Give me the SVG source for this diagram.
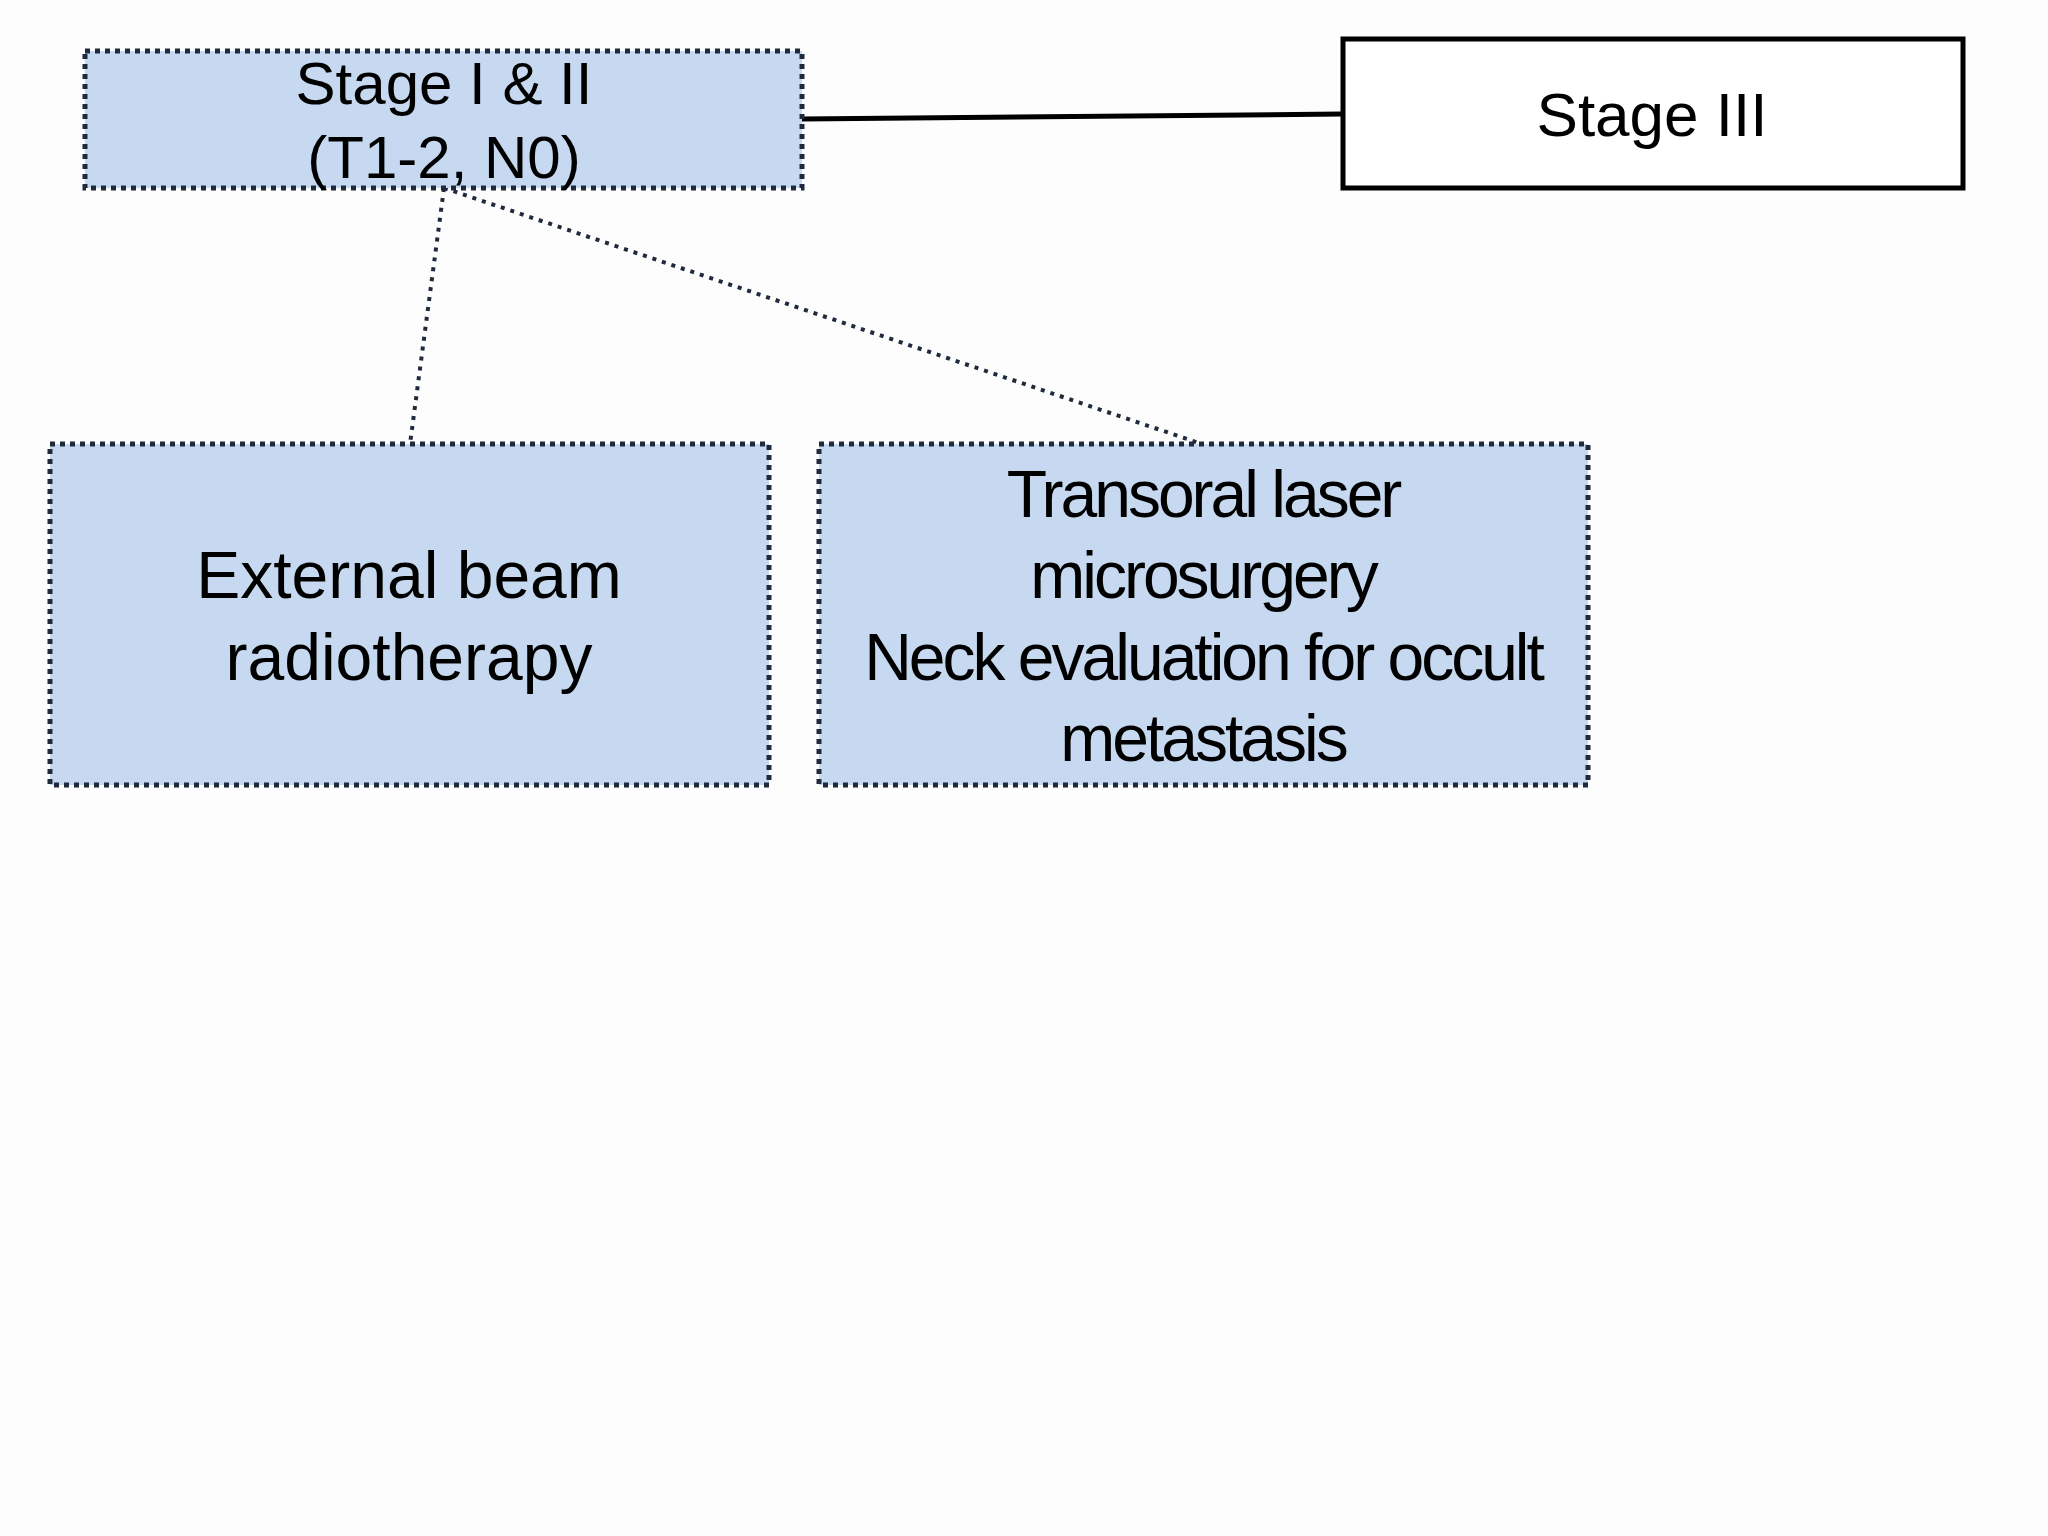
<svg xmlns="http://www.w3.org/2000/svg" width="2048" height="1536" viewBox="0 0 2048 1536">
<style>
.d{fill:#c6d9f0;stroke:#1f2a3c;stroke-width:5;stroke-dasharray:5 5}
.t{font-family:"Liberation Sans",Arial,sans-serif;fill:#000;text-anchor:middle}
.c{stroke:#1f2a3c;stroke-width:4;stroke-dasharray:4 6;fill:none}
</style>
<rect width="2048" height="1536" fill="#fdfdfd"/>
<g id="connectors">
<line x1="802" y1="119" x2="1343" y2="114" stroke="#000" stroke-width="5"/>
<line class="c" x1="444" y1="188" x2="410" y2="444"/>
<line class="c" x1="444" y1="188" x2="1202" y2="444"/>
</g>
<g id="stage12">
<rect class="d" x="85" y="51" width="717" height="137"/>
<text class="t" x="444" y="104" font-size="60">Stage I &amp; II</text>
<text class="t" x="444" y="178" font-size="60">(T1-2, N0)</text>
</g>
<g id="stage3">
<rect x="1343" y="39" width="620" height="149" fill="#fff" stroke="#000" stroke-width="5"/>
<text class="t" x="1652" y="136" font-size="62">Stage III</text>
</g>
<g id="ebrt">
<rect class="d" x="50" y="444" width="719" height="341"/>
<text class="t" x="409" y="598" font-size="66">External beam</text>
<text class="t" x="409" y="680" font-size="66">radiotherapy</text>
</g>
<g id="tlm">
<rect class="d" x="819" y="444" width="769" height="341"/>
<g class="t" font-size="66" letter-spacing="-3">
<text x="1203" y="517">Transoral laser</text>
<text x="1203" y="598">microsurgery</text>
<text x="1203" y="680">Neck evaluation for occult</text>
<text x="1203" y="761">metastasis</text>
</g>
</g>
</svg>
